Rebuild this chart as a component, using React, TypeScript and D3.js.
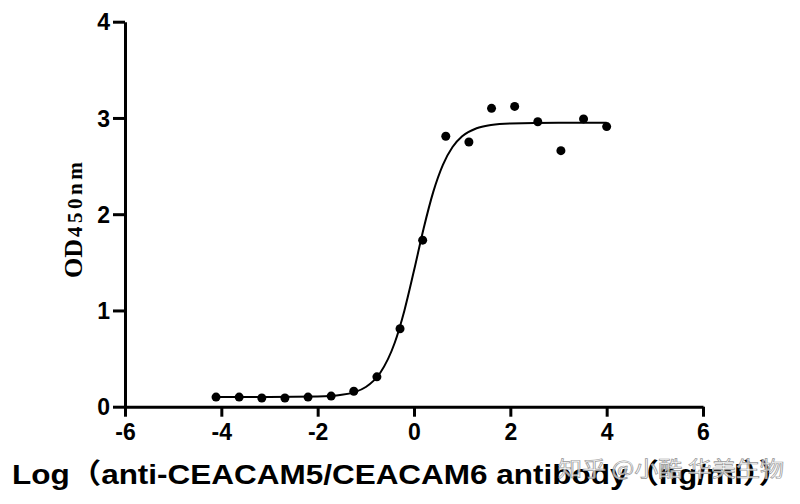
import { useEffect, useRef } from "react";
import * as d3 from "d3";

// log10 concentration (ng/ml) and measured OD450
const logConc = [
  -4.11, -3.63, -3.16, -2.68, -2.2, -1.72, -1.25, -0.77, -0.29, 0.18, 0.66,
  1.14, 1.61, 2.09, 2.57, 3.05, 3.52, 4.0,
];
const od = [
  0.1, 0.1, 0.09, 0.09, 0.1, 0.11, 0.16, 0.31, 0.81, 1.73, 2.81, 2.75, 3.1,
  3.12, 2.96, 2.66, 2.99, 2.91,
];

// fitted curve
const fitX = [
  -4.11, -3, -2, -1.5, -1.0, -0.7, -0.4, -0.2, 0.0, 0.2, 0.4, 0.6, 0.8, 1.0,
  1.3, 1.6, 2.0, 3.0, 4.0,
];
const fitY = [
  0.1, 0.1, 0.105, 0.123, 0.205, 0.352, 0.664, 0.998, 1.414, 1.852, 2.232,
  2.513, 2.698, 2.809, 2.893, 2.927, 2.943, 2.95, 2.95,
];

const xTicks = [-6, -4, -2, 0, 2, 4, 6];
const yTicks = [0, 1, 2, 3, 4];

const W = 800;
const H = 504;

const App = () => {
  const svgRef = useRef<SVGSVGElement | null>(null);

  useEffect(() => {
    if (!svgRef.current) return;
    const svg = d3.select(svgRef.current);
    svg.selectAll("*").remove();

    const x = d3.scaleLinear().domain([-6, 6]).range([125, 703]);
    const y = d3.scaleLinear().domain([0, 4]).range([406.7, 21.7]);
    const tickFont = "'Liberation Sans', Arial, sans-serif";
    const fmt = (d: d3.NumberValue) => String(d);

    // x axis
    const xAxis = svg
      .append("g")
      .attr("transform", `translate(0,${y(0)})`)
      .call(
        d3
          .axisBottom(x)
          .tickValues(xTicks)
          .tickFormat(fmt)
          .tickSize(10)
          .tickPadding(7)
          .tickSizeOuter(0)
      );
    // y axis
    const yAxis = svg
      .append("g")
      .attr("transform", `translate(${x(-6)},0)`)
      .call(
        d3
          .axisLeft(y)
          .tickValues(yTicks)
          .tickFormat(fmt)
          .tickSize(12)
          .tickPadding(3)
          .tickSizeOuter(0)
      );

    [xAxis, yAxis].forEach((g) => {
      g.select(".domain").attr("stroke", "#000").attr("stroke-width", 3);
      g.selectAll(".tick line").attr("stroke", "#000").attr("stroke-width", 3);
      g.selectAll(".tick text")
        .attr("fill", "#000")
        .attr("font-family", tickFont)
        .attr("font-weight", "bold")
        .attr("font-size", 23);
    });
    yAxis.selectAll(".tick text").attr("dy", "0.36em");
    xAxis.selectAll(".tick text").attr("dy", "0.72em");

    // fit curve
    const line = d3
      .line<number>()
      .x((d) => x(d))
      .y((_, i) => y(fitY[i]))
      .curve(d3.curveMonotoneX);
    svg
      .append("path")
      .datum(fitX)
      .attr("d", line)
      .attr("fill", "none")
      .attr("stroke", "#000")
      .attr("stroke-width", 2);

    // points
    svg
      .selectAll(".pt")
      .data(logConc)
      .enter()
      .append("circle")
      .attr("class", "pt")
      .attr("cx", (d) => x(d))
      .attr("cy", (_, i) => y(od[i]))
      .attr("r", 4.5)
      .attr("fill", "#000");

    // y title
    const yt = svg
      .append("text")
      .attr("transform", "translate(81.5,278) rotate(-90)")
      .attr("font-family", "'Liberation Serif', 'Times New Roman', serif")
      .attr("font-weight", "bold")
      .attr("fill", "#000");
    yt.append("tspan").attr("font-size", 26).text("OD");
    yt.append("tspan")
      .attr("font-size", 21)
      .attr("dx", 2)
      .attr("letter-spacing", 3.5)
      .text("450nm");

    // x title
    svg
      .append("text")
      .attr("x", 12)
      .attr("y", 483.5)
      .attr("font-family", "'Liberation Sans', Arial, 'Noto Sans CJK SC', sans-serif")
      .attr("font-weight", "bold")
      .attr("font-size", 28)
      .attr("textLength", 778)
      .attr("lengthAdjust", "spacingAndGlyphs")
      .attr("fill", "#000")
      .text("Log（anti-CEACAM5/CEACAM6 antibody（ng/ml））");

    // watermark
    svg
      .append("text")
      .attr("x", 558)
      .attr("y", 476)
      .attr("font-family", "'Noto Sans CJK SC', sans-serif")
      .attr("font-size", 21)
      .attr("textLength", 226)
      .attr("lengthAdjust", "spacingAndGlyphs")
      .attr("fill", "#fff")
      .attr("fill-opacity", 0.75)
      .attr("stroke", "#999")
      .attr("stroke-width", 0.7)
      .text("知乎 @小酷 华美生物");
  }, []);

  return (
    <svg
      ref={svgRef}
      width={W}
      height={H}
      style={{ position: "absolute", left: 0, top: 0, background: "#fff" }}
    ></svg>
  );
};

export default App;
